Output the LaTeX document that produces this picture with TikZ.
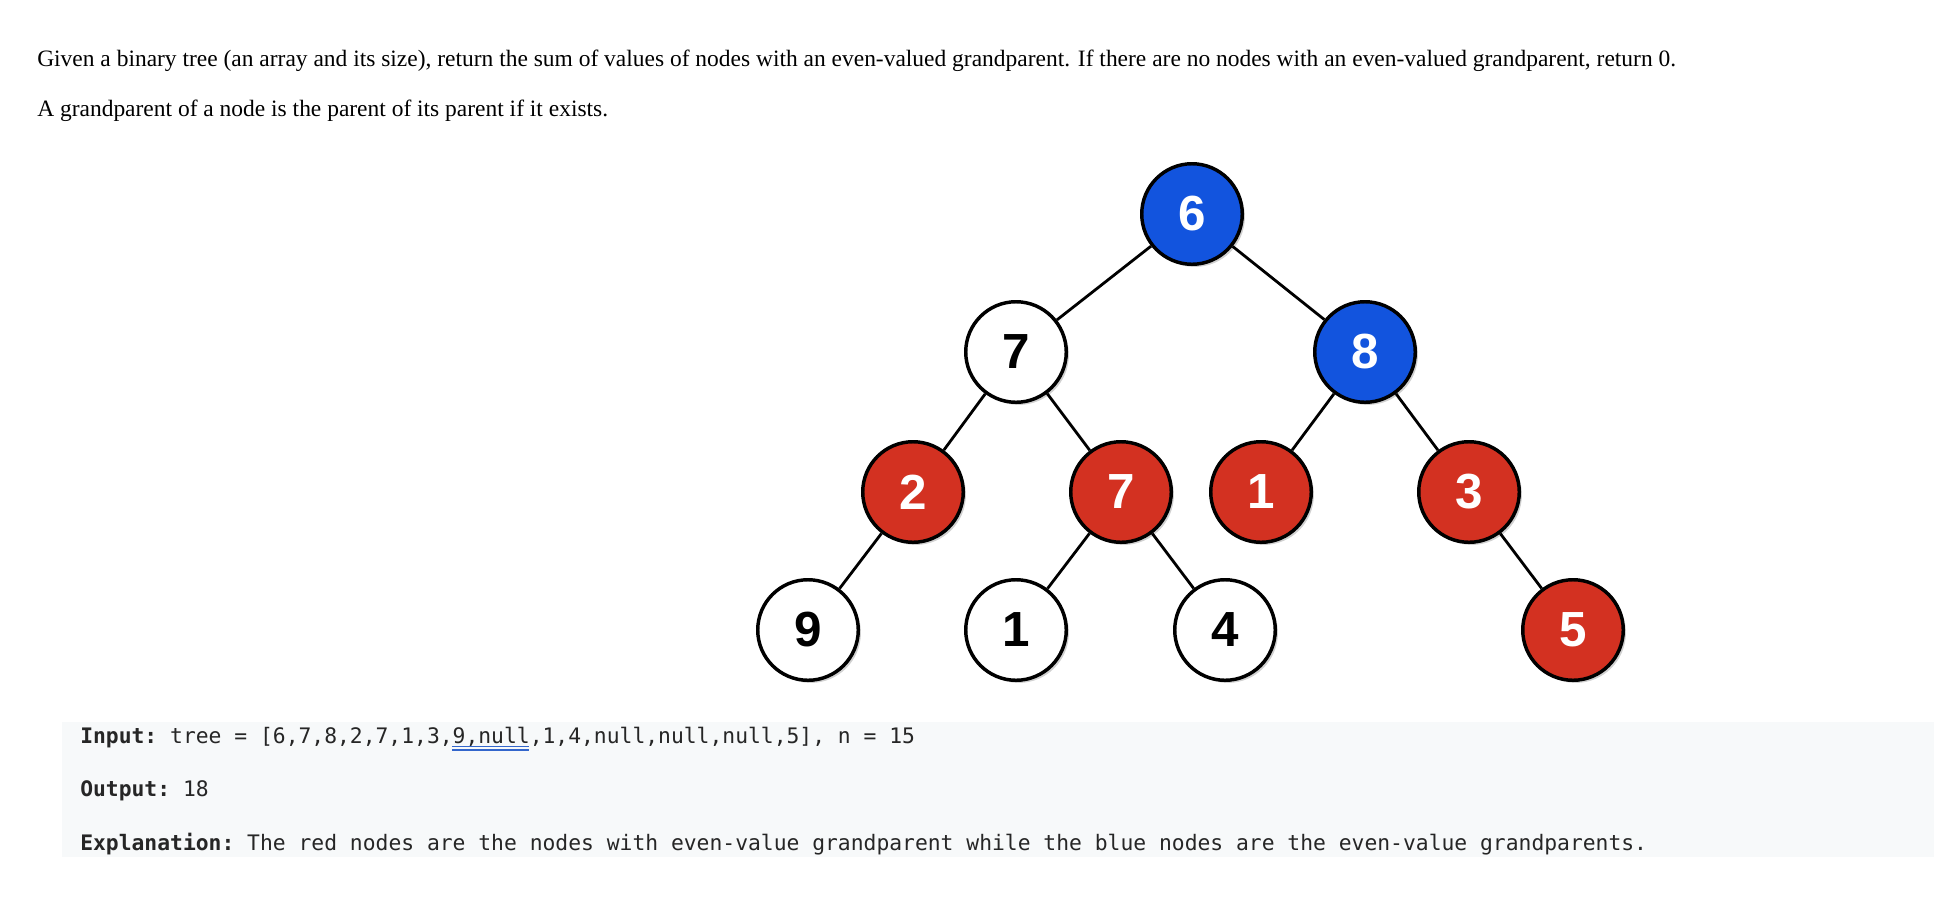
\documentclass[tikz,border=0pt]{standalone}
\usepackage{fontspec}
\setmainfont{Liberation Serif}
\setmonofont{DejaVu Sans Mono}
\newfontfamily\digitfont{Liberation Sans}
\usetikzlibrary{shadows}

\begin{document}
\begin{tikzpicture}[x=0.75pt,y=-0.75pt]

	\definecolor{nodeblue}{RGB}{18,84,222}
	\definecolor{nodered}{RGB}{211,49,33}
	\definecolor{codebg}{RGB}{247,249,250}
	\definecolor{codetext}{RGB}{38,38,38}
	\definecolor{markblue}{RGB}{51,102,204}

	\useasboundingbox (0,0) rectangle (1934,908);
	\tikzstyle{edge} = [draw,-,line width=2.1pt]

	% problem statement
	\tikzset{textline/.style = {anchor=base west,inner sep=0,font=\fontsize{17.6}{21}\selectfont}}
	\node[textline] (line1) at (37,66) {Given a binary tree (an array and its size), return the sum of values of nodes with an even-valued grandparent. If there are no nodes with an even-valued grandparent, return 0.};
	\node[textline] (line2) at (37,116) {A grandparent of a node is the parent of its parent if it exists.};

	% example block
	\fill[codebg] (62,722) rectangle (1934,857);
	\tikzset{codeline/.style = {anchor=base west,inner sep=0,text=codetext,font=\ttfamily\fontsize{16}{19}\selectfont}}
	\node[codeline] (input) at (80,743) {\textbf{Input:} tree = [6,7,8,2,7,1,3,9,null,1,4,null,null,null,5], n = 15};
	\node[codeline] (output) at (80,796) {\textbf{Output:} 18};
	\node[codeline] (explain) at (80,850) {\textbf{Explanation:} The red nodes are the nodes with even-value grandparent while the blue nodes are the even-value grandparents.};
	\draw[markblue,line width=1.1pt] (452,746.5) -- (529,746.5);
	\draw[markblue,line width=1.1pt] (452,750) -- (529,750);

	% tree
	\tikzset{vertex/.style = {shape=circle,draw,fill=white,line width=2.6pt,minimum size=75.4pt,inner sep=0,
		font=\digitfont\bfseries\fontsize{37}{37}\selectfont,
		drop shadow={shadow xshift=2pt,shadow yshift=-2pt,opacity=0.3,fill=black!60}}}
	\tikzset{bluevertex/.style = {vertex,fill=nodeblue,text=white}}
	\tikzset{redvertex/.style = {vertex,fill=nodered,text=white}}

	\node[bluevertex] (n6) at (1192,214) {6};
	\node[vertex] (n7a) at (1016,352) {7};
	\node[bluevertex] (n8) at (1365,352) {8};
	\node[redvertex] (n2) at (913,492) {2};
	\node[redvertex] (n7b) at (1121,492) {7};
	\node[redvertex] (n1a) at (1261,492) {1};
	\node[redvertex] (n3) at (1469,492) {3};
	\node[vertex] (n9) at (808,630) {9};
	\node[vertex] (n1b) at (1016,630) {1};
	\node[vertex] (n4) at (1225,630) {4};
	\node[redvertex] (n5) at (1573,630) {5};

	\draw[edge] (n6) to (n7a);
	\draw[edge] (n6) to (n8);
	\draw[edge] (n7a) to (n2);
	\draw[edge] (n7a) to (n7b);
	\draw[edge] (n8) to (n1a);
	\draw[edge] (n8) to (n3);
	\draw[edge] (n2) to (n9);
	\draw[edge] (n7b) to (n1b);
	\draw[edge] (n7b) to (n4);
	\draw[edge] (n3) to (n5);
\end{tikzpicture}
\end{document}
